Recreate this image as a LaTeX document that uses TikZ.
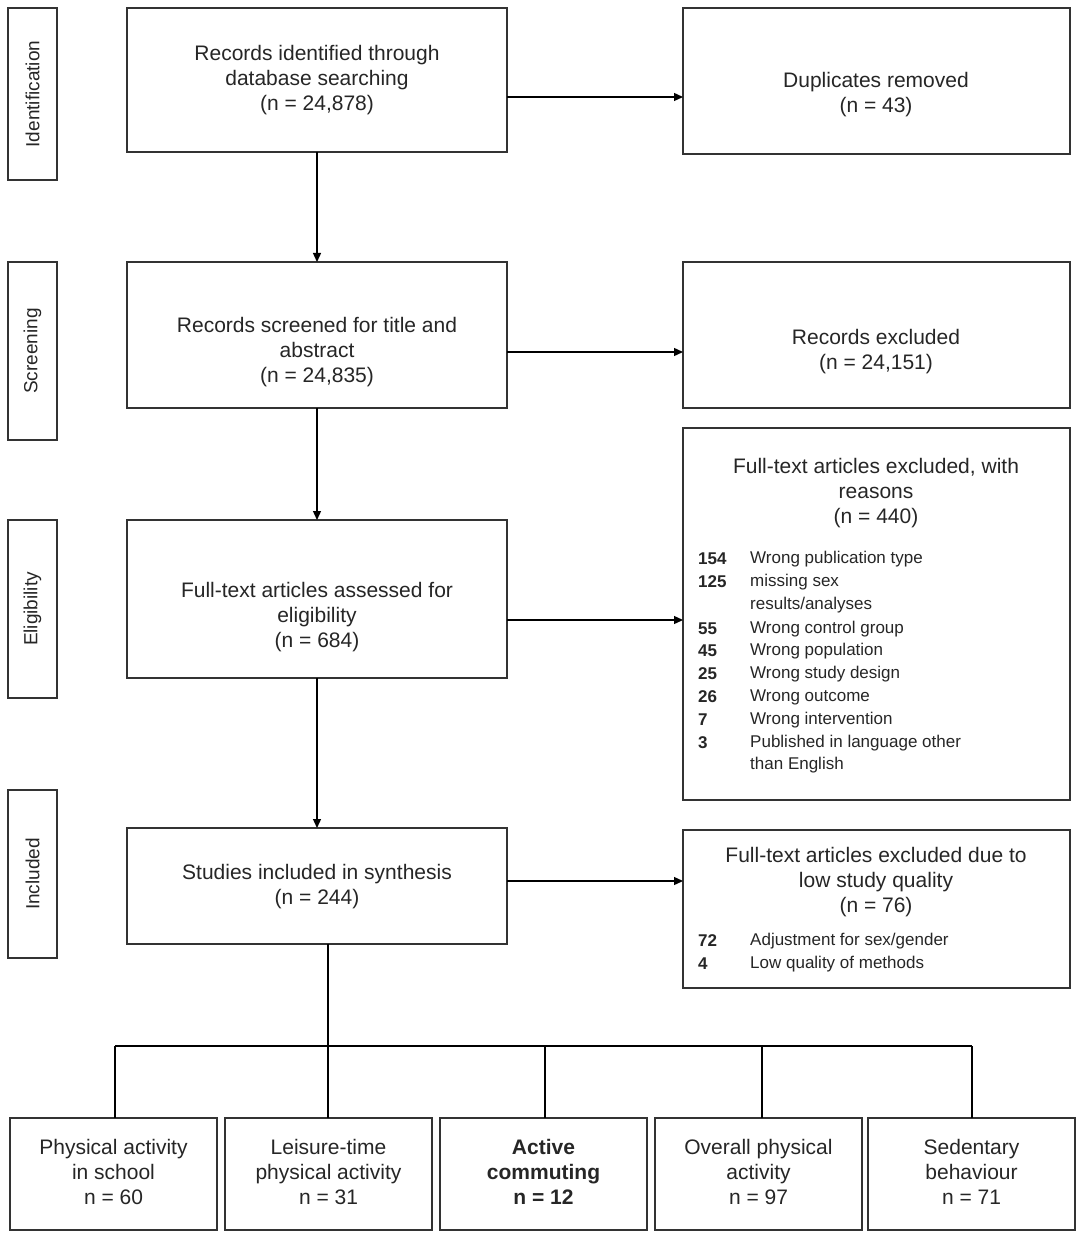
\documentclass[tikz,border=0pt]{standalone}
\usepackage{fontspec}
\setmainfont{Liberation Sans}
\usetikzlibrary{arrows.meta}
\begin{document}
\begin{tikzpicture}[x=1pt,y=-1pt,
 box/.style={draw=black!80,line width=1.2pt},
 txt/.style={align=center,font=\fontsize{21}{25}\selectfont,text=black!85},
 lst/.style={anchor=west,font=\fontsize{17}{19}\selectfont,text=black!85,inner sep=0},
 arr/.style={line width=1.3pt,-{Triangle[length=9pt,width=8pt]}},
 ln/.style={line width=1.3pt}]
\useasboundingbox (0,0) rectangle (1084,1241);
\fill[white] (0,0) rectangle (1084,1241);
% stage labels
\foreach \n/\a/\b/\t in {lid/8/180/Identification,lsc/262/440/Screening,lel/520/698/Eligibility,lin/790/958/Included}{
 \draw[box] (8,\a) rectangle (57,\b);
 \node[rotate=90,txt,font=\fontsize{19}{22}\selectfont] (\n) at (32.5,{(\a+\b)/2}) {\t};}
% main boxes
\draw[box] (127,8) rectangle (507,152); \node[txt] (a) at (317,80) {Records identified through\\database searching\\(n = 24,878)};
\draw[box] (683,8) rectangle (1070,154); \node[txt] (b) at (876,95) {Duplicates removed\\(n = 43)};
\draw[box] (127,262) rectangle (507,408); \node[txt] (c) at (317,352) {Records screened for title and\\abstract\\(n = 24,835)};
\draw[box] (683,262) rectangle (1070,408); \node[txt] (d) at (876,352) {Records excluded\\(n = 24,151)};
\draw[box] (127,520) rectangle (507,678); \node[txt] (e) at (317,617) {Full-text articles assessed for\\eligibility\\(n = 684)};
\draw[box] (683,428) rectangle (1070,800); \node[txt] (f) at (876,493) {Full-text articles excluded, with\\reasons\\(n = 440)};
\draw[box] (127,828) rectangle (507,944); \node[txt] (g) at (317,887) {Studies included in synthesis\\(n = 244)};
\draw[box] (683,830) rectangle (1070,988); \node[txt] (h) at (876,882) {Full-text articles excluded due to\\low study quality\\(n = 76)};
% lists
\foreach \y/\n/\t in {559/154/Wrong publication type,582/125/missing sex/gender related,629/55/Wrong control group,651/45/Wrong population,674/25/Wrong study design,697/26/Wrong outcome,720/7/Wrong intervention,743/3/Published in language other}{
 \node[lst,font=\fontsize{17}{19}\selectfont\bfseries] at (698,\y) {\n};
 \node[lst] at (750,\y) {\t};}
\node[lst] at (750,605) {results/analyses};
\node[lst] at (750,765) {than English};
\node[lst,font=\fontsize{17}{19}\selectfont\bfseries] at (698,941) {72};
\node[lst] at (750,941) {Adjustment for sex/gender};
\node[lst,font=\fontsize{17}{19}\selectfont\bfseries] at (698,964) {4};
\node[lst] at (750,964) {Low quality of methods};
% bottom
\foreach \n/\l/\t in {p1/10/{Physical activity\\in school\\n = 60},p2/225/{Leisure-time\\physical activity\\n = 31},p3/440/{\bfseries Active\\\bfseries commuting\\\bfseries n = 12},p4/655/{Overall physical\\activity\\n = 97},p5/868/{Sedentary\\behaviour\\n = 71}}{
 \draw[box] (\l,1118) rectangle ({\l+207},1230);
 \node[txt] (\n) at ({\l+103.5},1172) {\t};}
% arrows
\draw[arr] (317,152) -- (317,262);
\draw[arr] (317,408) -- (317,520);
\draw[arr] (317,678) -- (317,828);
\draw[arr] (507,97) -- (683,97);
\draw[arr] (507,352) -- (683,352);
\draw[arr] (507,620) -- (683,620);
\draw[arr] (507,881) -- (683,881);
\draw[ln] (328,944) -- (328,1118);
\draw[ln] (115,1046) -- (972,1046);
\foreach \x in {115,545,762,972} \draw[ln] (\x,1046) -- (\x,1118);
\end{tikzpicture}
\end{document}
